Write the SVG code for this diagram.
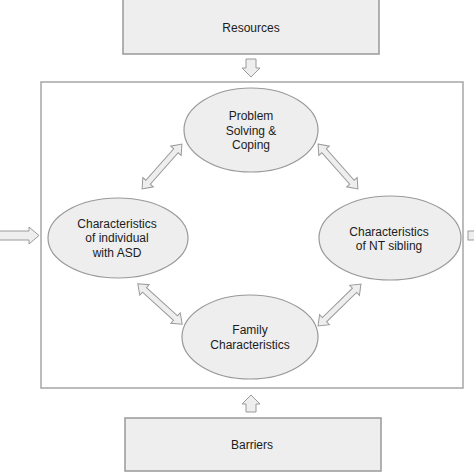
<svg xmlns="http://www.w3.org/2000/svg" width="474" height="474" viewBox="0 0 474 474">
<style>
.box{fill:#eeeeee;stroke:#999999;stroke-width:1.5}
.frame{fill:#ffffff;stroke:#a6a6a6;stroke-width:1.5}
.ell{fill:#eeeeee;stroke:#999999;stroke-width:1.2}
.arr{fill:#eeeeee;stroke:#9a9a9a;stroke-width:1}
text{font-family:"Liberation Sans",Arial,sans-serif;font-size:12px;fill:#1c1c1c;text-anchor:middle}
</style>
<defs>
<polygon id="dbl" points="-30,0 -21,-7 -21,-3 21,-3 21,-7 30,0 21,7 21,3 -21,3 -21,7"/>
</defs>
<rect width="474" height="474" fill="#ffffff"/>
<g id="frame"><rect class="frame" x="41" y="82" width="422" height="306"/></g>
<g id="resources">
<rect class="box" x="123" y="-1" width="256" height="55"/>
<text x="251" y="32">Resources</text>
</g>
<g id="barriers">
<rect class="box" x="125" y="418" width="256" height="53"/>
<text x="252" y="449">Barriers</text>
</g>
<g id="problem">
<ellipse class="ell" cx="251" cy="130" rx="67" ry="42"/>
<text x="251" y="120">Problem</text>
<text x="251" y="134.5">Solving &amp;</text>
<text x="251" y="149">Coping</text>
</g>
<g id="individual">
<ellipse class="ell" cx="118" cy="238" rx="70" ry="40"/>
<text x="117" y="227.5">Characteristics</text>
<text x="117" y="242">of individual</text>
<text x="117" y="256.5">with ASD</text>
</g>
<g id="sibling">
<ellipse class="ell" cx="390" cy="238" rx="71" ry="42"/>
<text x="389" y="235.5">Characteristics</text>
<text x="389" y="250">of NT sibling</text>
</g>
<g id="family">
<ellipse class="ell" cx="250" cy="337" rx="68" ry="42"/>
<text x="250" y="334">Family</text>
<text x="250" y="348.5">Characteristics</text>
</g>
<g id="connectors">
<polygon class="arr" points="246,59 256,59 256,68 260,68 251,77 242,68 246,68"/>
<polygon class="arr" points="246,412 256,412 256,404 260,404 251,395 242,404 246,404"/>
<polygon class="arr" points="-2,231 29,231 29,227 39,235.5 29,244 29,240 -2,240"/>
<rect class="arr" x="468" y="231" width="12" height="9"/>
<use href="#dbl" class="arr" transform="translate(162,166.5) rotate(-48.4)"/>
<use href="#dbl" class="arr" transform="translate(338,166.5) rotate(48.4)"/>
<use href="#dbl" class="arr" transform="translate(160,304) rotate(42.3)"/>
<use href="#dbl" class="arr" transform="translate(339.5,305) rotate(-44.3)"/>
</g>
</svg>
